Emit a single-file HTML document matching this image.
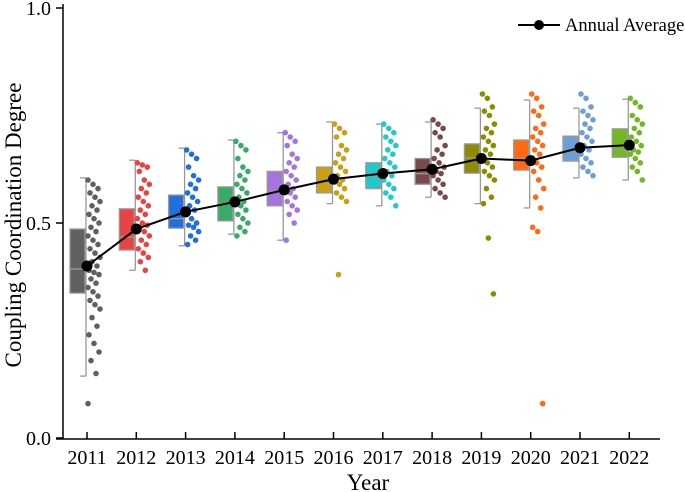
<!DOCTYPE html>
<html><head><meta charset="utf-8">
<style>
html,body{margin:0;padding:0;background:#fff;}
svg{display:block;font-family:"Liberation Serif",serif;}
</style></head>
<body>
<svg id="chart" width="685" height="492" viewBox="0 0 685 492" xmlns="http://www.w3.org/2000/svg"></svg>
<script>
const years = ["2011","2012","2013","2014","2015","2016","2017","2018","2019","2020","2021","2022"];
const q1 = [0.337,0.437,0.488,0.505,0.540,0.570,0.580,0.590,0.616,0.623,0.644,0.653];
const q3 = [0.486,0.533,0.565,0.584,0.620,0.630,0.640,0.650,0.684,0.693,0.702,0.719];
const medians = [0.393,0.467,0.510,0.545,0.575,0.595,0.610,0.615,0.651,0.650,0.665,0.670];
const whiskLo = [0.144,0.390,0.447,0.474,0.460,0.545,0.540,0.560,0.545,0.535,0.605,0.600];
const whiskHi = [0.605,0.646,0.674,0.693,0.710,0.735,0.730,0.735,0.767,0.786,0.767,0.788];
const means = [0.400,0.486,0.526,0.549,0.577,0.602,0.615,0.625,0.650,0.645,0.675,0.681];
const pts2011 = [0.60,0.59,0.58,0.57,0.56,0.55,0.54,0.53,0.52,0.51,0.50,0.49,0.48,0.47,0.46,0.45,0.44,0.43,0.42,0.41,0.40,0.39,0.385,0.38,0.37,0.36,0.35,0.34,0.33,0.32,0.31,0.30,0.28,0.26,0.24,0.22,0.20,0.18,0.15,0.08];
const pts2012 = [0.64,0.635,0.63,0.62,0.60,0.59,0.58,0.57,0.56,0.55,0.54,0.53,0.52,0.51,0.50,0.495,0.49,0.48,0.47,0.46,0.45,0.44,0.43,0.42,0.41,0.39];
const pts2013 = [0.67,0.66,0.65,0.63,0.61,0.60,0.59,0.58,0.57,0.56,0.55,0.54,0.53,0.52,0.51,0.50,0.495,0.49,0.48,0.47,0.46,0.45];
const pts2014 = [0.69,0.68,0.67,0.65,0.63,0.62,0.61,0.60,0.59,0.58,0.57,0.56,0.55,0.545,0.54,0.53,0.52,0.51,0.50,0.49,0.48,0.47];
const pts2015 = [0.71,0.70,0.69,0.68,0.66,0.65,0.64,0.63,0.62,0.61,0.60,0.59,0.58,0.575,0.57,0.56,0.55,0.54,0.53,0.52,0.50,0.46];
const pts2016 = [0.73,0.72,0.71,0.70,0.68,0.67,0.66,0.65,0.64,0.63,0.62,0.61,0.60,0.595,0.59,0.58,0.57,0.56,0.55,0.38];
const pts2017 = [0.73,0.72,0.71,0.70,0.69,0.68,0.67,0.66,0.65,0.64,0.63,0.62,0.61,0.60,0.59,0.58,0.57,0.56,0.54];
const pts2018 = [0.74,0.73,0.72,0.71,0.70,0.68,0.67,0.66,0.65,0.64,0.63,0.62,0.615,0.61,0.60,0.59,0.58,0.57,0.56];
const pts2019 = [0.80,0.79,0.77,0.76,0.75,0.73,0.72,0.71,0.70,0.69,0.68,0.67,0.66,0.65,0.64,0.63,0.62,0.61,0.60,0.58,0.56,0.545,0.465,0.335];
const pts2020 = [0.80,0.79,0.77,0.76,0.75,0.73,0.72,0.71,0.70,0.69,0.68,0.67,0.66,0.65,0.64,0.63,0.62,0.60,0.58,0.56,0.535,0.49,0.48,0.08];
const pts2021 = [0.80,0.79,0.77,0.76,0.75,0.74,0.73,0.72,0.71,0.70,0.69,0.68,0.67,0.66,0.65,0.64,0.63,0.62,0.61];
const pts2022 = [0.79,0.78,0.77,0.75,0.74,0.73,0.72,0.71,0.70,0.69,0.68,0.67,0.665,0.66,0.65,0.64,0.63,0.62,0.60];
const points = [pts2011,pts2012,pts2013,pts2014,pts2015,pts2016,pts2017,pts2018,pts2019,pts2020,pts2021,pts2022];
const colors = ["#606060","#e84444","#1f6fde","#3aaa68","#a574dc","#c9a012","#22c8cc","#7a4a4a","#8c8c00","#ff6a12","#6c9fd8","#72b822"];
const yTicks = [0,0.5,1.0];
const yTickLabels = ["0.0","0.5","1.0"];

const NS="http://www.w3.org/2000/svg";
const svg=document.getElementById('chart');
const x0=87, step=49.3, yTop=8, yBot=438;
function xs(i){return x0+i*step;}
function ys(v){return yBot-(yBot-yTop)*v;}
function el(tag,attrs,parent){const e=document.createElementNS(NS,tag);for(const k in attrs)e.setAttribute(k,attrs[k]);(parent||svg).appendChild(e);return e;}

let a=el('line',{x1:63,y1:4,x2:63,y2:439,stroke:'#000','stroke-width':1.5});


a=el('line',{x1:56,y1:439,x2:660,y2:439,stroke:'#000','stroke-width':1.5});


yTicks.forEach((v,i)=>{
  const t=el('line',{x1:56,x2:63,y1:ys(v),y2:ys(v),stroke:'#000','stroke-width':1.5});
  
  
  const tx=el('text',{x:51,y:ys(v)+7,'text-anchor':'end','font-size':20});
  tx.textContent=yTickLabels[i];
  
  
});
years.forEach((y,i)=>{
  const t=el('line',{x1:xs(i),x2:xs(i),y1:432,y2:439,stroke:'#000','stroke-width':1.5});
  
  
  const tx=el('text',{x:xs(i),y:464,'text-anchor':'middle','font-size':20});
  tx.textContent=y;
  
  
});
let t=el('text',{x:0,y:0,'text-anchor':'middle','font-size':23,transform:'translate(21,225) rotate(-90)'});
t.textContent='Coupling Coordination Degree';


t=el('text',{x:368,y:490,'text-anchor':'middle','font-size':23});
t.textContent='Year';



years.forEach((y,i)=>{
  const g=el('g',{});
  
  
  const cx=xs(i);
  el('line',{x1:cx-1,x2:cx-1,y1:ys(whiskHi[i]),y2:ys(whiskLo[i]),stroke:'#999','stroke-width':1.3},g);
  el('line',{x1:cx-7,x2:cx-1,y1:ys(whiskHi[i]),y2:ys(whiskHi[i]),stroke:'#999','stroke-width':1.3},g);
  el('line',{x1:cx-7,x2:cx-1,y1:ys(whiskLo[i]),y2:ys(whiskLo[i]),stroke:'#999','stroke-width':1.3},g);
  el('rect',{x:cx-17,y:ys(q3[i]),width:15,height:ys(q1[i])-ys(q3[i]),fill:colors[i],stroke:'#999','stroke-width':1.3},g);
  el('line',{x1:cx-17,x2:cx-2,y1:ys(medians[i]),y2:ys(medians[i]),stroke:'#999','stroke-width':1.3},g);
  const pg=el('g',{fill:colors[i]},g);
  points[i].forEach((v,j)=>{
    const off=1+((j*5)%13);
    const c=el('circle',{cx:cx+off,cy:ys(v),r:2.8},pg);
    
    
  });
});

const d=means.map((m,i)=>(i?'L':'M')+xs(i)+','+ys(m)).join(' ');
const ml=el('path',{d:d,fill:'none',stroke:'#000','stroke-width':2});


means.forEach((m,i)=>{
  const c=el('circle',{cx:xs(i),cy:ys(m),r:5.5,fill:'#000'});
  
  
});

const lg=el('g',{});


el('line',{x1:518,x2:560,y1:25,y2:25,stroke:'#000','stroke-width':2},lg);
el('circle',{cx:539,cy:25,r:5,fill:'#000'},lg);
const lt=el('text',{x:565,y:31,'font-size':18.5},lg);
lt.textContent='Annual Average';
</script>
</body></html>
